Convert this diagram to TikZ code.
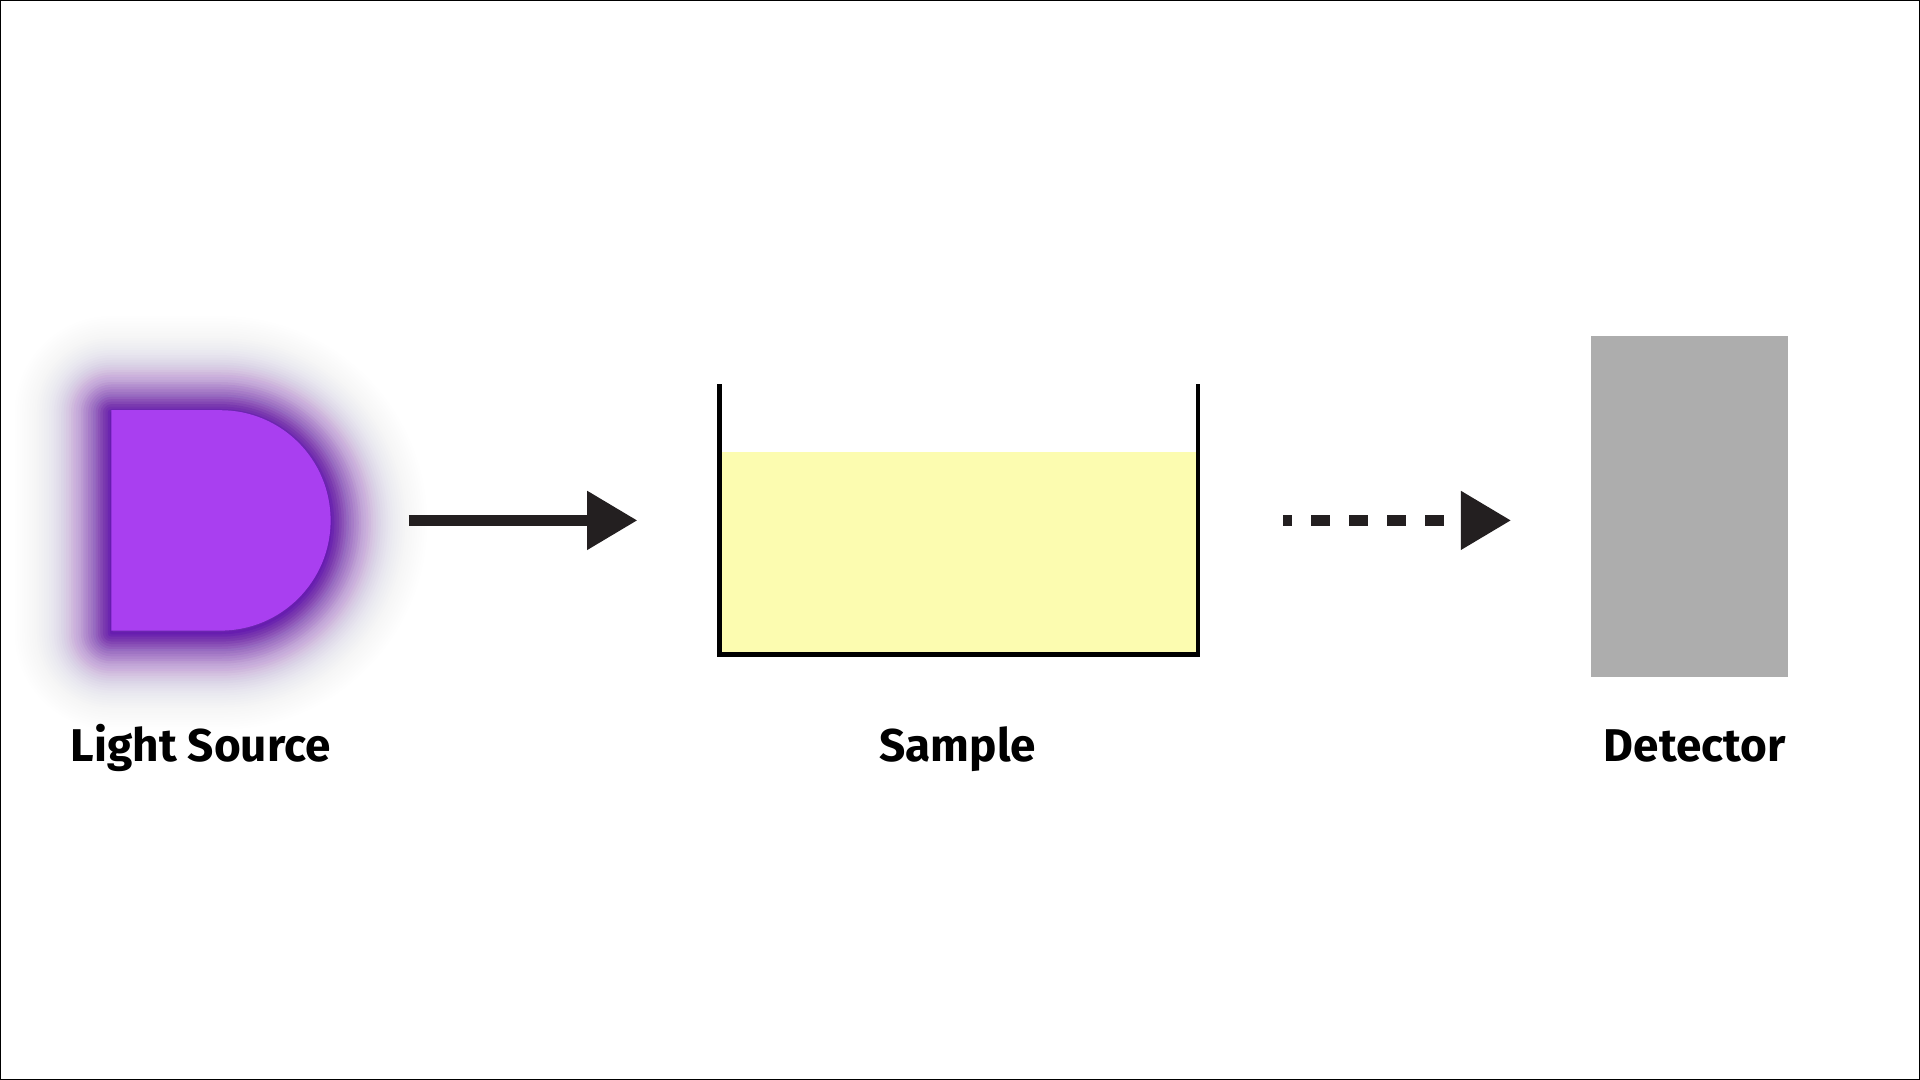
\documentclass[tikz,border=0pt]{standalone}
\usepackage{fontspec}
\setmainfont{Fira Sans}
\usetikzlibrary{arrows.meta}
\definecolor{purp}{RGB}{169,63,240}
\definecolor{glowc}{RGB}{100,10,175}
\definecolor{ink}{RGB}{35,31,32}
\definecolor{liq}{RGB}{252,252,176}
\definecolor{detg}{RGB}{173,173,173}
\begin{document}
\begin{tikzpicture}[x=1pt,y=-1pt,
  lbl/.style={font=\fontsize{37.5}{42}\selectfont\bfseries, anchor=base, text=black, inner sep=0pt},
  box/.style={inner sep=0pt, outer sep=0pt, draw=none},
  flow/.style={draw=ink, line width=8.5pt, -{Triangle[length=41pt 0 0,width=46pt 0 0]}},
  glowline/.style={draw=glowc, line join=round}]
\useasboundingbox (0,0) rectangle (1568,882);
\fill[white] (0,0) rectangle (1568,882);
\draw[black, line width=1.2pt] (0.6,0.6) rectangle (1567.4,881.4);

% light source glow
\foreach \h in {1,3,...,79} {
  \pgfmathsetmacro\op{1-exp(-0.2235*exp(-\h/17))}
  \pgfmathsetmacro\lw{2*\h}
  \draw[glowline, line width=\lw pt, draw opacity=\op] (91,337) -- (180,337) arc[start angle=-90, end angle=90, radius=90] -- (91,517) -- cycle;
}
\fill[purp] (91,335) -- (180,335) arc[start angle=-90, end angle=90, radius=90] -- (91,515) -- cycle;
\node[box, minimum width=179pt, minimum height=180pt] (src) at (180.5,425) {};

% sample
\node[box, minimum width=391pt, minimum height=222pt] (smp) at (783,425) {};
\fill[liq] (589,369) rectangle (977,533);
\draw[black, line width=3.5pt] (587.5,314) -- (587.5,534.5) -- (978.5,534.5) -- (978.5,314);

% detector
\node[box, fill=detg, minimum width=161pt, minimum height=279pt] (det) at (1379.5,413.5) {};

% connectors
\draw[flow, shorten <=64pt, shorten >=67pt] (src.east) -- (smp.west);
\draw[flow, dash pattern=on 15pt off 16pt, dash phase=8pt, shorten <=69.5pt, shorten >=65pt] (smp.east) -- (smp.east -| det.west);

% labels
\node[lbl] (lsrc) at (164,622) {Light Source};
\node[lbl] (lsmp) at (782,622) {Sample};
\node[lbl] (ldet) at (1384,622) {Detector};
\end{tikzpicture}
\end{document}
